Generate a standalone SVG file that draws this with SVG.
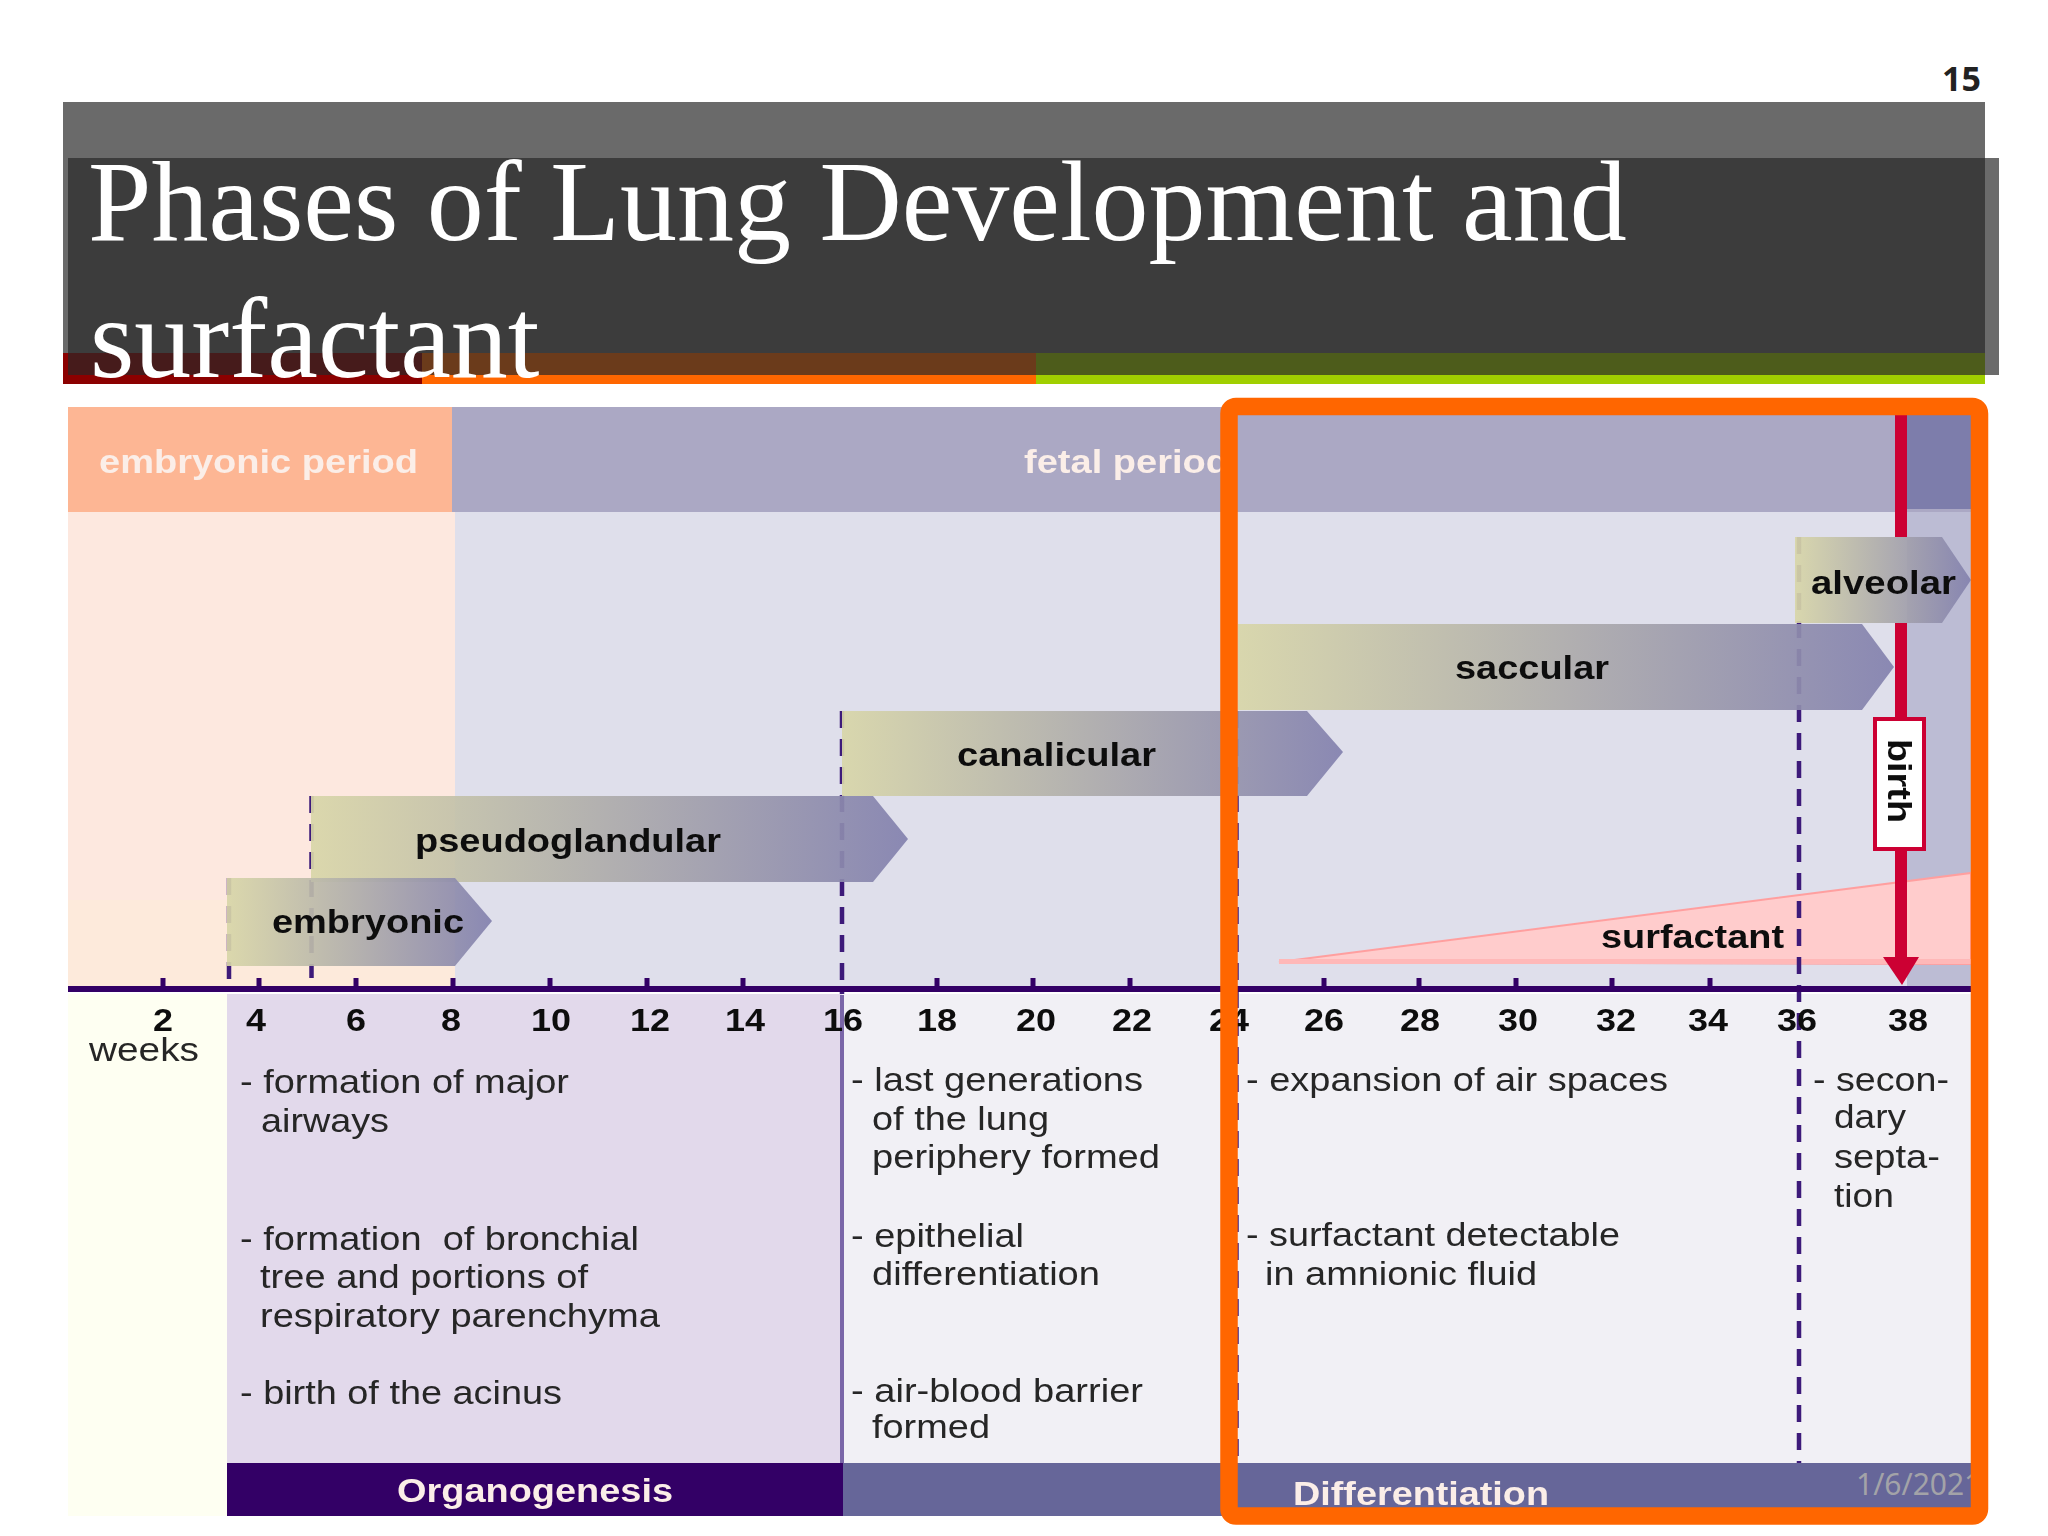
<svg xmlns="http://www.w3.org/2000/svg" width="2048" height="1536" viewBox="0 0 2048 1536">
<style>
text{font-family:"Liberation Sans",Arial,sans-serif;white-space:pre}
.b{font-weight:700;fill:#111;font-size:33px}
.w{font-weight:700;fill:#fbeee8;font-size:33px}
.n{font-weight:700;fill:#111;font-size:31px;text-anchor:middle}
.t{fill:#262626;font-size:33px}
.h{font-family:"Liberation Serif",serif;font-size:114px;fill:#fff}
.d{stroke:#3d1a7a;stroke-width:4.500;stroke-dasharray:17 11;fill:none}
.tk{stroke:#330066;stroke-width:5}
</style>
<defs>
<linearGradient id="s" x1="0" x2="1"><stop offset="0" stop-color="#d8d6a8"/><stop offset="1" stop-color="#8381ae"/></linearGradient>
<filter id="soft" x="-5%" y="-20%" width="110%" height="140%"><feGaussianBlur stdDeviation="0.6"/></filter>
</defs>
<rect width="2048" height="1536" fill="#fff"/>
<g id="header">
<rect x="63" y="102" width="1922" height="252" fill="#6a6a6a"/>
<rect x="63" y="353" width="359" height="31" fill="#8b0000"/>
<rect x="422" y="353" width="614" height="31" fill="#ff6600"/>
<rect x="1036" y="353" width="949" height="31" fill="#a0cf00"/>
<rect x="68" y="158" width="1931" height="217" fill="#272727" fill-opacity=".685"/>
<text class="h" x="88" y="240">Phases of Lung Development and</text>
<text class="h" x="90" y="377">surfactant</text>
<text x="1942" y="91" style="font-family:'Noto Sans',sans-serif" font-weight="700" font-size="34" fill="#222">15</text>
</g>
<g id="background">
<rect x="68" y="512" width="387" height="388" fill="#fde8df"/>
<rect x="68" y="900" width="387" height="89" fill="#fdeadb"/>
<rect x="455" y="512" width="1452" height="477" fill="#dfdfeb"/>
<rect x="1907" y="509" width="64" height="480" fill="#bcbcd4"/>
<rect x="68" y="994" width="159" height="522" fill="#fefff2"/>
<rect x="227" y="994" width="615" height="469" fill="#e2d9eb"/>
<rect x="842" y="994" width="1129" height="469" fill="#f1f0f5"/>
</g>
<g id="periods">
<rect x="68" y="407" width="384" height="105" fill="#fdb694"/>
<rect x="452" y="407" width="1519" height="105" fill="#aba8c4"/>
<rect x="1907" y="407" width="64" height="102" fill="#7d7dab"/>
<g filter="url(#soft)">
<text class="w" x="99" y="473" textLength="319" lengthAdjust="spacingAndGlyphs">embryonic period</text>
<text class="w" x="1024" y="473" textLength="205" lengthAdjust="spacingAndGlyphs">fetal period</text>
</g>
</g>
<g id="surfactant">
<polygon points="1279,962 1971,873 1971,964" fill="#ffcccc" stroke="#ff9f9f" stroke-width="2"/>
<rect x="1279" y="959" width="692" height="5" fill="#ffb8b8"/>
<text class="b" x="1601" y="948" textLength="183" lengthAdjust="spacingAndGlyphs" filter="url(#soft)">surfactant</text>
</g>
<g id="connectors">
<path class="d" d="M311.500 796V978M229 878V989M842 711V994M1236.500 711V1463M1799 537V1463"/>
<path d="M842 995V1463" stroke="#7a66a8" stroke-width="4"/>
<path d="M1901 407V537M1901 623V960" stroke="#cc0033" stroke-width="12"/>
<polygon points="1883,957 1919,957 1902,985" fill="#cc0033"/>
<path d="M68 989H1971" stroke="#330066" stroke-width="6"/>
<path class="tk" d="M163 978V989M259 978V989M356 978V989M453 978V989M550 978V989M647 978V989M743 978V989M937 978V989M1033 978V989M1130 978V989M1324 978V989M1419 978V989M1516 978V989M1612 978V989M1710 978V989"/>
</g>
<g id="phase-pseudoglandular">
<polygon points="311,796 873,796 908,839 873,882 311,882" fill="url(#s)" fill-opacity=".92"/>
<text class="b" x="415" y="852" textLength="306" lengthAdjust="spacingAndGlyphs" filter="url(#soft)">pseudoglandular</text>
</g>
<g id="phase-embryonic">
<polygon points="227,878 455,878 492,921 455,966 227,966" fill="url(#s)" fill-opacity=".92"/>
<text class="b" x="272" y="933" textLength="192" lengthAdjust="spacingAndGlyphs" filter="url(#soft)">embryonic</text>
</g>
<g id="phase-canalicular">
<polygon points="842,711 1307,711 1343,752 1307,796 842,796" fill="url(#s)" fill-opacity=".92"/>
<text class="b" x="957" y="766" textLength="199" lengthAdjust="spacingAndGlyphs" filter="url(#soft)">canalicular</text>
</g>
<g id="phase-saccular">
<polygon points="1238,624 1862,624 1894,667 1862,710 1238,710" fill="url(#s)" fill-opacity=".92"/>
<text class="b" x="1455" y="679" textLength="154" lengthAdjust="spacingAndGlyphs" filter="url(#soft)">saccular</text>
</g>
<g id="phase-alveolar">
<polygon points="1795,537 1942,537 1971,580 1942,623 1795,623" fill="url(#s)" fill-opacity=".92"/>
<text class="b" x="1811" y="594" textLength="145" lengthAdjust="spacingAndGlyphs" filter="url(#soft)">alveolar</text>
</g>
<g id="birth">
<rect x="1875" y="719" width="49" height="130" fill="#fff" stroke="#cc0033" stroke-width="4"/>
<text class="b" transform="translate(1888 739) rotate(90)" textLength="84" lengthAdjust="spacingAndGlyphs" filter="url(#soft)">birth</text>
</g>
<g id="axis-labels" filter="url(#soft)">
<text class="n" x="163" y="1031" textLength="20" lengthAdjust="spacingAndGlyphs">2</text>
<text class="n" x="256" y="1031" textLength="20" lengthAdjust="spacingAndGlyphs">4</text>
<text class="n" x="356" y="1031" textLength="20" lengthAdjust="spacingAndGlyphs">6</text>
<text class="n" x="451" y="1031" textLength="20" lengthAdjust="spacingAndGlyphs">8</text>
<text class="n" x="551" y="1031" textLength="40" lengthAdjust="spacingAndGlyphs">10</text>
<text class="n" x="650" y="1031" textLength="40" lengthAdjust="spacingAndGlyphs">12</text>
<text class="n" x="745" y="1031" textLength="40" lengthAdjust="spacingAndGlyphs">14</text>
<text class="n" x="843" y="1031" textLength="40" lengthAdjust="spacingAndGlyphs">16</text>
<text class="n" x="937" y="1031" textLength="40" lengthAdjust="spacingAndGlyphs">18</text>
<text class="n" x="1036" y="1031" textLength="40" lengthAdjust="spacingAndGlyphs">20</text>
<text class="n" x="1132" y="1031" textLength="40" lengthAdjust="spacingAndGlyphs">22</text>
<text class="n" x="1229" y="1031" textLength="40" lengthAdjust="spacingAndGlyphs">24</text>
<text class="n" x="1324" y="1031" textLength="40" lengthAdjust="spacingAndGlyphs">26</text>
<text class="n" x="1420" y="1031" textLength="40" lengthAdjust="spacingAndGlyphs">28</text>
<text class="n" x="1518" y="1031" textLength="40" lengthAdjust="spacingAndGlyphs">30</text>
<text class="n" x="1616" y="1031" textLength="40" lengthAdjust="spacingAndGlyphs">32</text>
<text class="n" x="1708" y="1031" textLength="40" lengthAdjust="spacingAndGlyphs">34</text>
<text class="n" x="1797" y="1031" textLength="40" lengthAdjust="spacingAndGlyphs">36</text>
<text class="n" x="1908" y="1031" textLength="40" lengthAdjust="spacingAndGlyphs">38</text>
<text class="t" x="89" y="1061" textLength="110" lengthAdjust="spacingAndGlyphs">weeks</text>
</g>
<g id="notes" filter="url(#soft)">
<text class="t" x="240" y="1093" textLength="329" lengthAdjust="spacingAndGlyphs">- formation of major</text>
<text class="t" x="261" y="1132" textLength="128" lengthAdjust="spacingAndGlyphs">airways</text>
<text class="t" x="240" y="1250" textLength="399" lengthAdjust="spacingAndGlyphs">- formation  of bronchial</text>
<text class="t" x="260" y="1288" textLength="328" lengthAdjust="spacingAndGlyphs">tree and portions of</text>
<text class="t" x="260" y="1327" textLength="400" lengthAdjust="spacingAndGlyphs">respiratory parenchyma</text>
<text class="t" x="240" y="1404" textLength="322" lengthAdjust="spacingAndGlyphs">- birth of the acinus</text>
<text class="t" x="851" y="1091" textLength="292" lengthAdjust="spacingAndGlyphs">- last generations</text>
<text class="t" x="872" y="1130" textLength="177" lengthAdjust="spacingAndGlyphs">of the lung</text>
<text class="t" x="872" y="1168" textLength="288" lengthAdjust="spacingAndGlyphs">periphery formed</text>
<text class="t" x="851" y="1247" textLength="173" lengthAdjust="spacingAndGlyphs">- epithelial</text>
<text class="t" x="872" y="1285" textLength="228" lengthAdjust="spacingAndGlyphs">differentiation</text>
<text class="t" x="851" y="1402" textLength="292" lengthAdjust="spacingAndGlyphs">- air-blood barrier</text>
<text class="t" x="872" y="1438" textLength="118" lengthAdjust="spacingAndGlyphs">formed</text>
<text class="t" x="1246" y="1091" textLength="422" lengthAdjust="spacingAndGlyphs">- expansion of air spaces</text>
<text class="t" x="1246" y="1246" textLength="374" lengthAdjust="spacingAndGlyphs">- surfactant detectable</text>
<text class="t" x="1265" y="1285" textLength="272" lengthAdjust="spacingAndGlyphs">in amnionic fluid</text>
<text class="t" x="1813" y="1091" textLength="136" lengthAdjust="spacingAndGlyphs">- secon-</text>
<text class="t" x="1834" y="1128" textLength="72" lengthAdjust="spacingAndGlyphs">dary</text>
<text class="t" x="1834" y="1168" textLength="106" lengthAdjust="spacingAndGlyphs">septa-</text>
<text class="t" x="1834" y="1207" textLength="60" lengthAdjust="spacingAndGlyphs">tion</text>
</g>
<g id="stages">
<rect x="227" y="1463" width="616" height="53" fill="#330066"/>
<rect x="843" y="1463" width="1128" height="53" fill="#666699"/>
<text class="w" x="397" y="1502" textLength="276" lengthAdjust="spacingAndGlyphs" filter="url(#soft)">Organogenesis</text>
<text class="w" x="1293" y="1505" textLength="256" lengthAdjust="spacingAndGlyphs" filter="url(#soft)">Differentiation</text>
<text x="1856" y="1495" style="font-family:'Noto Sans',sans-serif" font-size="30" fill="#a3a3a8">1/6/2021</text>
</g>
<g id="highlight">
<rect x="1229" y="406.500" width="750.500" height="1109.500" rx="7" fill="none" stroke="#ff6600" stroke-width="17.500"/>
</g>
</svg>
